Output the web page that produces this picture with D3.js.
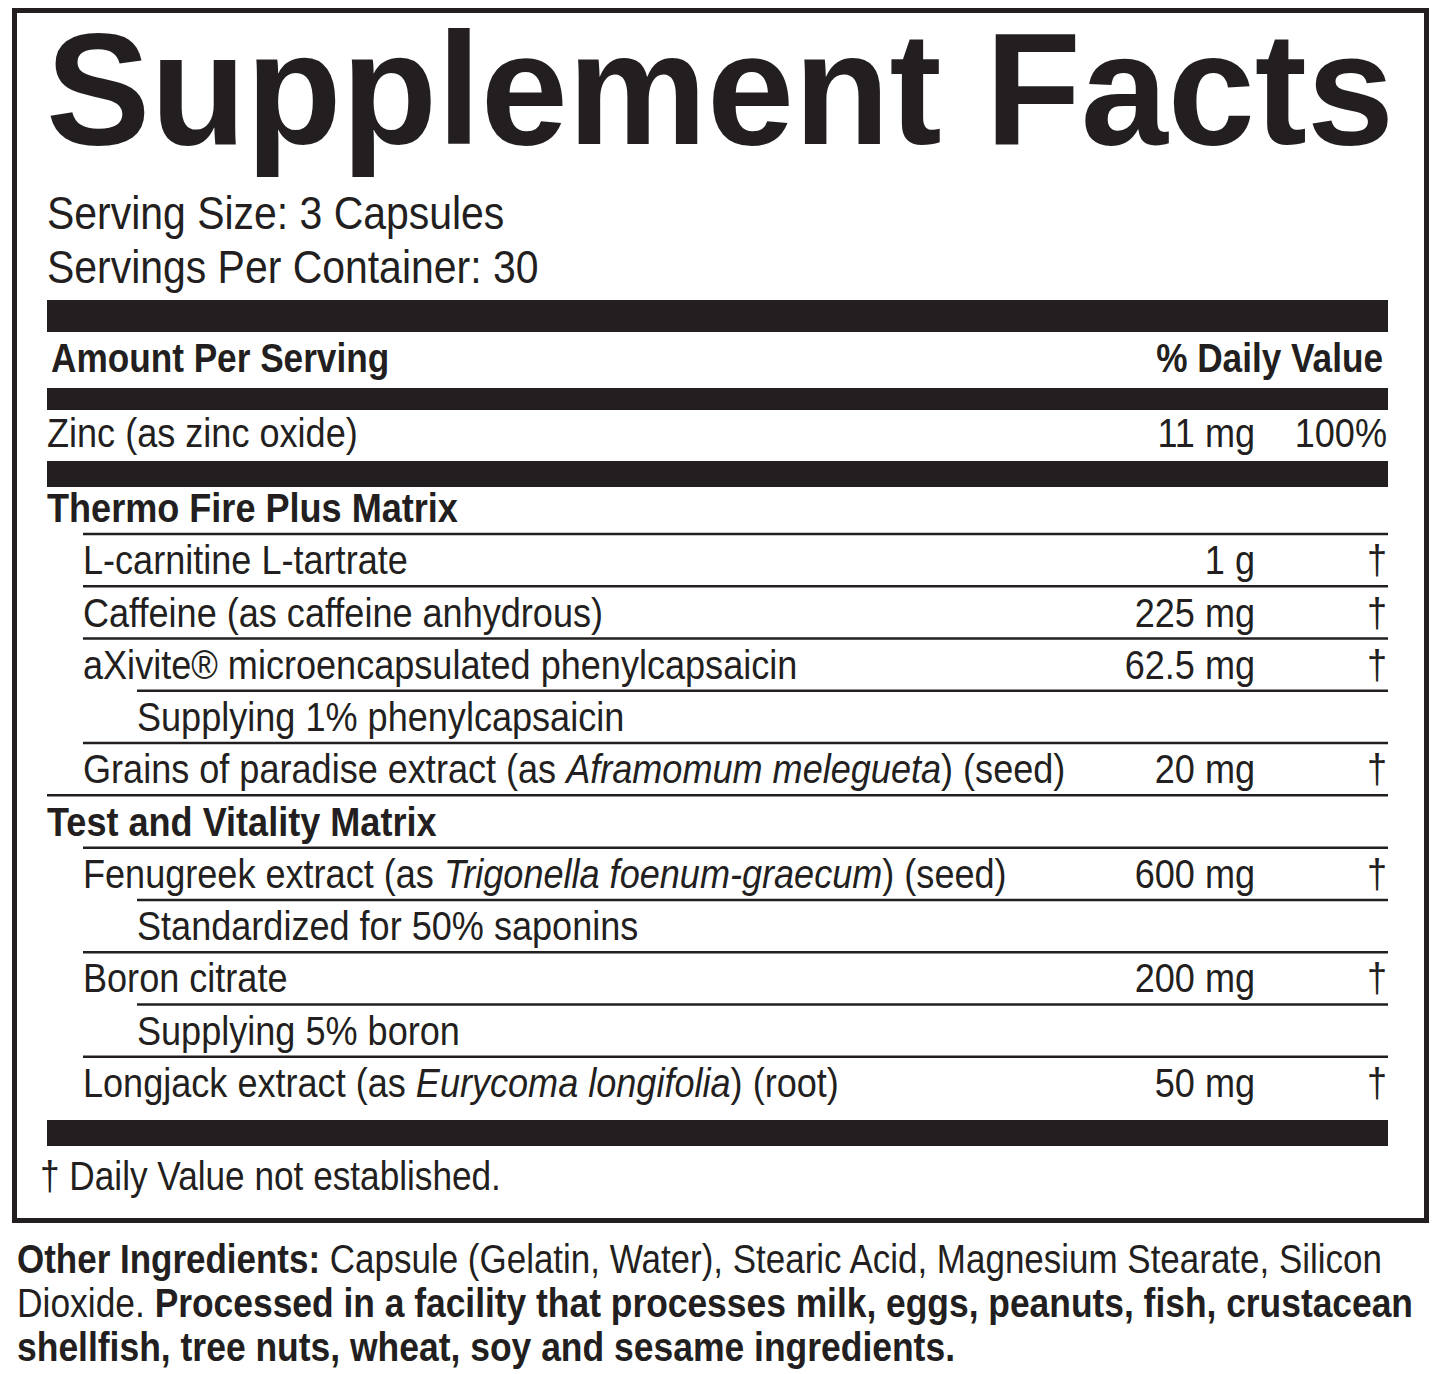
<!DOCTYPE html>
<html><head><meta charset="utf-8">
<script src="https://cdn.jsdelivr.net/npm/d3@7"></script>
<style>body{margin:0;background:#fff}text{font-family:"Liberation Sans",Arial,sans-serif;fill:#231f20}</style>
</head><body><svg id="c" width="1440" height="1374"></svg>
<script>
const title = "Supplement Facts";
const servingInfo = ["Serving Size: 3 Capsules", "Servings Per Container: 30"];
const headerLeft = "Amount Per Serving", headerRight = "% Daily Value";
const rowLabels = [
  [["Zinc (as zinc oxide)"]],
  [["Thermo Fire Plus Matrix"]],
  [["L-carnitine L-tartrate"]],
  [["Caffeine (as caffeine anhydrous)"]],
  [["aXivite® microencapsulated phenylcapsaicin"]],
  [["Supplying 1% phenylcapsaicin"]],
  [["Grains of paradise extract (as "],["Aframomum melegueta","i"],[") (seed)"]],
  [["Test and Vitality Matrix"]],
  [["Fenugreek extract (as "],["Trigonella foenum-graecum","i"],[") (seed)"]],
  [["Standardized for 50% saponins"]],
  [["Boron citrate"]],
  [["Supplying 5% boron"]],
  [["Longjack extract (as "],["Eurycoma longifolia","i"],[") (root)"]]
];
const rowAmounts = ["11 mg","","1 g","225 mg","62.5 mg","","20 mg","","600 mg","","200 mg","","50 mg"];
const rowDV = ["100%","","†","†","†","","†","","†","","†","","†"];
const rowBold = [0,1,0,0,0,0,0,1,0,0,0,0,0];
const rowIndent = [0,0,1,1,1,2,1,0,1,2,1,2,1];
const rowLineAfter = [null,1,1,1,2,1,0,1,2,1,2,1,null];
const footnote = "† Daily Value not established.";
const other = [
 [["Other Ingredients: ","b"],["Capsule (Gelatin, Water), Stearic Acid, Magnesium Stearate, Silicon"]],
 [["Dioxide. "],["Processed in a facility that processes milk, eggs, peanuts, fish, crustacean","b"]],
 [["shellfish, tree nuts, wheat, soy and sesame ingredients.","b"]]
];
const otherWidths = [1365,1396,938];

const svg = d3.select("#c");
const indentX = d3.scaleOrdinal().domain([0,1,2]).range([47,83,137]);
const rowY = d3.scaleLinear().domain([1,12]).range([522,1097]);
const L=47,R=1388, amtX=1255, dvX=1387, SX=0.88;
const txt=(x,y,size,anchor,sx)=>svg.append("g").attr("transform",`translate(${x},${y}) scale(${sx},1)`)
  .append("text").attr("font-size",size).attr("text-anchor",anchor||"start");

svg.append("rect").attr("x",14.5).attr("y",10.5).attr("width",1412).attr("height",1210).attr("fill","none").attr("stroke","#231f20").attr("stroke-width",5);
svg.append("text").attr("x",46).attr("y",144).attr("font-size",160).attr("font-weight","bold")
  .attr("textLength",1348).attr("lengthAdjust","spacingAndGlyphs").text(title);
servingInfo.forEach((s,i)=>txt(47,229+i*54,46,"start",0.89).text(s));
const bar=(y,h)=>svg.append("rect").attr("x",L).attr("y",y).attr("width",R-L).attr("height",h).attr("fill","#231f20");
bar(300,32); bar(388,22); bar(461,26); bar(1120,26);
txt(51,372,40,"start",SX).attr("font-weight","bold").text(headerLeft);
txt(1383,372,40,"end",SX).attr("font-weight","bold").text(headerRight);

rowLabels.forEach((parts,i)=>{
  const y = i===0?447:rowY(i);
  const t=txt(indentX(rowIndent[i]),y,41,"start",SX).attr("font-weight",rowBold[i]?"bold":"normal");
  parts.forEach(p=>t.append("tspan").attr("font-style",p[1]==="i"?"italic":"normal").text(p[0]));
  if(rowAmounts[i]) txt(amtX,y,41,"end",SX).text(rowAmounts[i]);
  if(rowDV[i]) txt(dvX,y,41,"end",SX).text(rowDV[i]);
  if(rowLineAfter[i]!==null){
    svg.append("line").attr("x1",indentX(rowLineAfter[i])).attr("x2",R).attr("y1",y+12).attr("y2",y+12).attr("stroke","#231f20").attr("stroke-width",2.5);
  }
});
txt(40,1190,40,"start",SX).text(footnote);
other.forEach((line,i)=>{
  const t=svg.append("text").attr("x",17).attr("y",1273+i*44).attr("font-size",40)
    .attr("textLength",otherWidths[i]).attr("lengthAdjust","spacingAndGlyphs");
  line.forEach(p=>t.append("tspan").attr("font-weight",p[1]==="b"?"bold":"normal").text(p[0]));
});
</script></body></html>
